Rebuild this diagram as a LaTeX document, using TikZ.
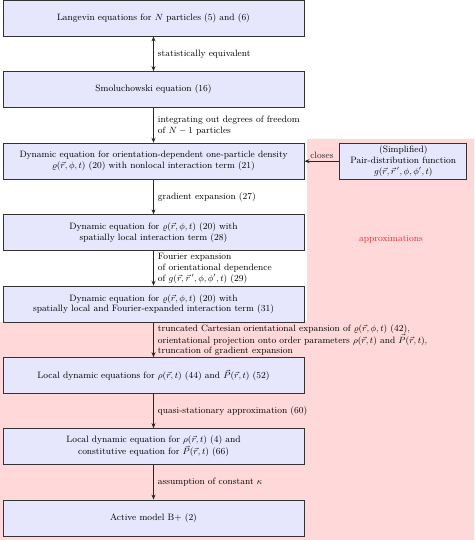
\documentclass[tikz,border=0pt]{standalone}
\usepackage{amsmath}
\usetikzlibrary{arrows.meta}
\definecolor{boxfill}{RGB}{230,230,252}
\definecolor{pinkbg}{RGB}{255,217,218}
\definecolor{apxred}{RGB}{225,45,55}
\tikzset{
  stagebox/.style={draw=black!80, line width=0.9pt, fill=boxfill, minimum width=301pt, minimum height=36pt, align=center, inner sep=0pt, font=\fontsize{9.2}{10.8}\selectfont},
  pairbox/.style={draw=black!80, line width=0.9pt, fill=boxfill, minimum width=127pt, minimum height=36pt, align=center, inner sep=0pt, font=\fontsize{9.2}{10.8}\selectfont},
  arr/.style={line width=0.9pt, black!85, -{Stealth[length=5pt,width=4pt]}},
  darr/.style={line width=0.9pt, black!85, {Stealth[length=5pt,width=4pt]}-{Stealth[length=5pt,width=4pt]}},
  lbl/.style={anchor=west, align=left, inner sep=0pt, xshift=4pt, text=black, font=\fontsize{9.2}{10.8}\selectfont},
}
\begin{document}
\begin{tikzpicture}[x=1pt,y=1pt]
\useasboundingbox (0,0) rectangle (474,-540);
% approximations region
\fill[pinkbg] (307,-139) -- (474,-139) -- (474,-540) -- (0,-540) -- (0,-322) -- (307,-322) -- cycle;
\node[text=apxred, font=\fontsize{9.2}{10.8}\selectfont] (apx) at (391,-239) {approximations};
% boxes
\node[stagebox] (b1) at (153.5,-18) {Langevin equations for $N$ particles (5) and (6)};
\node[stagebox] (b2) at (153.5,-89.6) {Smoluchowski equation (16)};
\node[stagebox] (b3) at (153.5,-161.2) {Dynamic equation for orientation-dependent one-particle density\\$\varrho(\vec{r},\phi,t)$ (20) with nonlocal interaction term (21)};
\node[stagebox] (b4) at (153.5,-232.8) {Dynamic equation for $\varrho(\vec{r},\phi,t)$ (20) with\\spatially local interaction term (28)};
\node[stagebox] (b5) at (153.5,-304.2) {Dynamic equation for $\varrho(\vec{r},\phi,t)$ (20) with\\spatially local and Fourier-expanded interaction term (31)};
\node[stagebox] (b6) at (153.5,-375.6) {Local dynamic equations for $\rho(\vec{r},t)$ (44) and $\vec{P}(\vec{r},t)$ (52)};
\node[stagebox] (b7) at (153.5,-446.6) {Local dynamic equation for $\rho(\vec{r},t)$ (4) and\\constitutive equation for $\vec{P}(\vec{r},t)$ (66)};
\node[stagebox] (b8) at (153.5,-518) {Active model B+ (2)};
\node[pairbox] (pd) at (403.3,-161.2) {(Simplified)\\Pair-distribution function\\$g(\vec{r},\vec{r}\,',\phi,\phi',t)$};
% connectors
\draw[darr] (b1.south) -- node[lbl] (l1) {statistically equivalent} (b2.north);
\draw[arr] (b2.south) -- node[lbl] (l2) {integrating out degrees of freedom\\of $N-1$ particles} (b3.north);
\draw[arr] (b3.south) -- node[lbl] (l3) {gradient expansion (27)} (b4.north);
\draw[arr] (b4.south) -- node[lbl] (l4) {Fourier expansion\\of orientational dependence\\of $g(\vec{r},\vec{r}\,',\phi,\phi',t)$ (29)} (b5.north);
\draw[arr] (b5.south) -- node[lbl] (l5) {truncated Cartesian orientational expansion of $\varrho(\vec{r},\phi,t)$ (42),\\orientational projection onto order parameters $\rho(\vec{r},t)$ and $\vec{P}(\vec{r},t)$,\\truncation of gradient expansion} (b6.north);
\draw[arr] (b6.south) -- node[lbl] (l6) {quasi-stationary approximation (60)} (b7.north);
\draw[arr] (b7.south) -- node[lbl] (l7) {assumption of constant $\kappa$} (b8.north);
\draw[arr] (pd.west) -- node[above, inner sep=2pt, font=\fontsize{9.2}{10.8}\selectfont] (lc) {closes} (b3.east);
\end{tikzpicture}
\end{document}
